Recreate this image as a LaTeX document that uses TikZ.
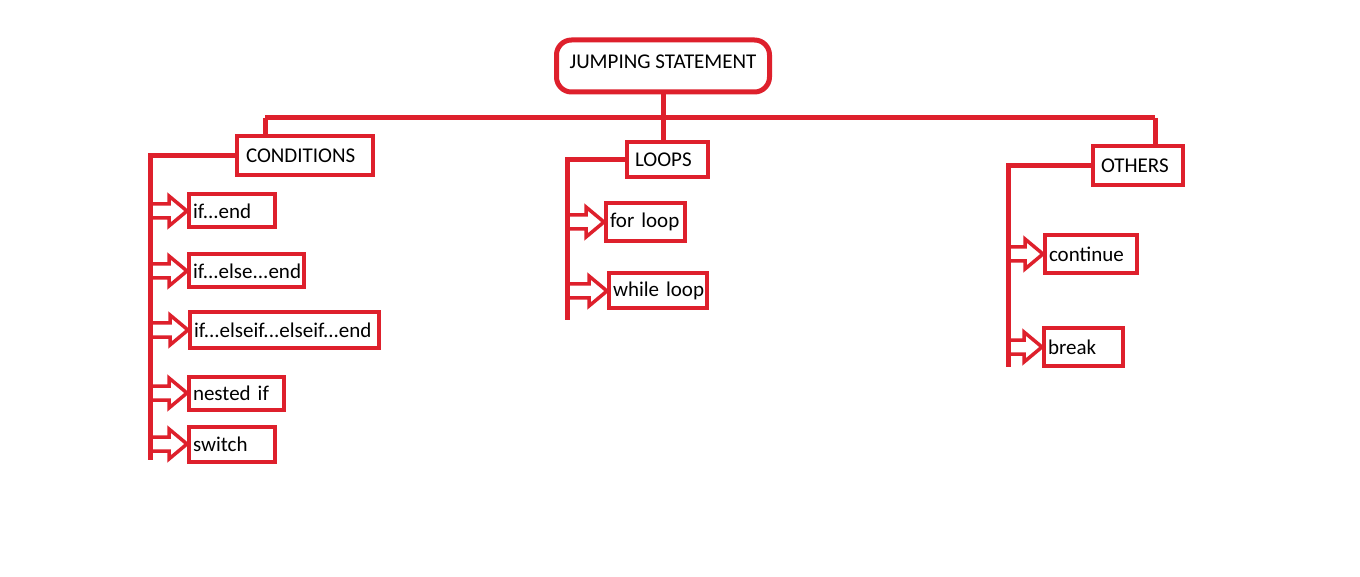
\documentclass[tikz,border=0pt]{standalone}
\usepackage{fontspec}
\setmainfont{Carlito}
\usetikzlibrary{calc}
\definecolor{jsred}{RGB}{222,32,44}
\tikzset{
    box/.style={draw=jsred, line width=4pt, font=\fontsize{21}{24}\selectfont,
        anchor=west, inner xsep=4pt, inner ysep=0pt, align=left},
    wire/.style={draw=jsred, line width=5pt},
    fatarrow/.style={draw=jsred, line width=3.5pt, line join=miter,
        to path={($(\tikztostart)+(0,7pt)$) -- ($(\tikztotarget)+(-18pt,7pt)$)
            -- ($(\tikztotarget)+(-18pt,15pt)$) -- (\tikztotarget)
            -- ($(\tikztotarget)+(-18pt,-15pt)$) -- ($(\tikztotarget)+(-18pt,-7pt)$)
            -- ($(\tikztostart)+(0,-7pt)$)}}
}
\begin{document}
\begin{tikzpicture}[x=1pt, y=-1pt]
    % the frame
    \fill[white] (0,0) rectangle (1360,577);
    \useasboundingbox (0,0) rectangle (1360,577);

    % the root
    \node[draw=jsred, line width=5pt, rounded corners=15pt, font=\fontsize{21}{24}\selectfont,
        minimum width=213pt, minimum height=52pt, text depth=9pt] (root) at (663,66) {JUMPING STATEMENT};

    % the groups
    \node[box, text width=118pt, minimum height=39pt, inner xsep=9pt] (cond) at (235,156) {CONDITIONS};
    \node[box, text width=65pt, minimum height=35pt, inner xsep=8pt] (loops) at (625,160) {LOOPS};
    \node[box, text width=74pt, minimum height=39pt, inner xsep=8pt] (others) at (1091,166) {OTHERS};

    % the leaves
    \foreach \name/\x/\y/\w/\h/\txt in {
        ifend/187/211/86/33/{if...end},
        ifelse/187/271/115/33/{if...else...end},
        elseif/188/330/189/36/{if...elseif...elseif...end},
        nested/187/393/95/33/{nested if},
        switch/187/444/86/35/{switch},
        forloop/604/222/79/38/{for loop},
        whileloop/607/291/98/35/{while loop},
        continue/1043/254/92/38/{continue},
        break/1042/347/79/38/{break}} {
        \node[box, text width={\w-8pt}, minimum height=\h pt] (\name) at (\x,\y) {\mbox{\txt}};
    };

    % the bar
    \coordinate (barL) at (265,118);
    \coordinate (barR) at (1155,118);
    \draw[wire] (barL) -- (barR);
    \draw[wire] (root.south) -- (root.south |- barL);
    \draw[wire] (barL) -- (barL |- cond.north);
    \draw[wire] (root.south |- barL) -- (root.south |- loops.north);
    \draw[wire] (barR) -- (barR |- others.north);

    % the spines
    \coordinate (cspine) at (150,460);
    \coordinate (lspine) at (567,320);
    \coordinate (ospine) at (1008,367);
    \draw[wire] (cond.west) -- (cond.west -| cspine) -- (cspine);
    \draw[wire] (loops.west) -- (loops.west -| lspine) -- (lspine);
    \draw[wire] (others.west) -- (others.west -| ospine) -- (ospine);

    % arrows
    \foreach \n in {ifend, ifelse, elseif, nested, switch}
        \draw[fatarrow] (\n.west -| cspine) to (\n.west);
    \foreach \n in {forloop, whileloop}
        \draw[fatarrow] (\n.west -| lspine) to (\n.west);
    \foreach \n in {continue, break}
        \draw[fatarrow] (\n.west -| ospine) to (\n.west);
\end{tikzpicture}
\end{document}
